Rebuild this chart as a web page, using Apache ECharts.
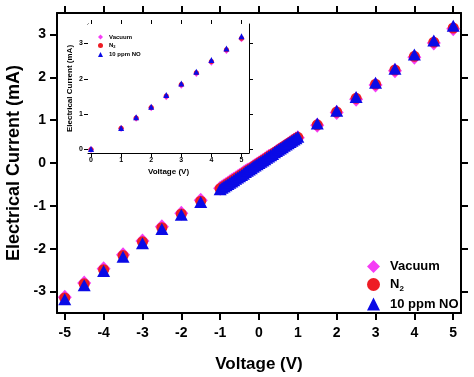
<!DOCTYPE html>
<html><head><meta charset="utf-8">
<script src="https://cdn.jsdelivr.net/npm/echarts@6/dist/echarts.min.js"></script>
<style>html,body{margin:0;padding:0;background:#fff}#c{width:474px;height:377px}</style>
</head><body><div id="c"></div>
<script>
// ---- main chart data ----
var voltage = [-5,-4.5,-4,-3.5,-3,-2.5,-2,-1.5,
  -1,-0.95,-0.9,-0.85,-0.8,-0.75,-0.7,-0.65,-0.6,-0.55,-0.5,-0.45,-0.4,-0.35,-0.3,-0.25,-0.2,-0.15,-0.1,-0.05,
  0,0.05,0.1,0.15,0.2,0.25,0.3,0.35,0.4,0.45,0.5,0.55,0.6,0.65,0.7,0.75,0.8,0.85,0.9,0.95,1,
  1.5,2,2.5,3,3.5,4,4.5,5];
var vacuumI = [-3.13,-2.80,-2.47,-2.14,-1.82,-1.49,-1.17,-0.87,
  -0.59,-0.56,-0.53,-0.50,-0.47,-0.44,-0.41,-0.38,-0.35,-0.32,-0.29,-0.26,-0.23,-0.20,-0.17,-0.15,-0.12,-0.09,-0.06,-0.03,
  0,0.03,0.06,0.09,0.12,0.15,0.17,0.20,0.23,0.26,0.29,0.32,0.35,0.38,0.41,0.44,0.47,0.50,0.53,0.56,0.59,
  0.88,1.18,1.49,1.82,2.15,2.47,2.80,3.13];
var n2I = [-3.15,-2.82,-2.49,-2.16,-1.84,-1.51,-1.19,-0.89,
  -0.60,-0.57,-0.54,-0.51,-0.48,-0.45,-0.42,-0.39,-0.36,-0.33,-0.30,-0.27,-0.24,-0.21,-0.18,-0.15,-0.12,-0.09,-0.06,-0.03,
  0,0.03,0.06,0.09,0.12,0.15,0.18,0.21,0.24,0.27,0.30,0.33,0.36,0.39,0.42,0.45,0.48,0.51,0.54,0.57,0.60,
  0.89,1.19,1.51,1.84,2.17,2.49,2.82,3.15];
var noI = [-3.18,-2.85,-2.52,-2.19,-1.87,-1.54,-1.21,-0.91,
  -0.61,-0.58,-0.55,-0.52,-0.49,-0.46,-0.43,-0.40,-0.37,-0.34,-0.31,-0.28,-0.25,-0.21,-0.18,-0.15,-0.12,-0.09,-0.06,-0.03,
  0,0.03,0.06,0.09,0.12,0.15,0.18,0.21,0.25,0.28,0.31,0.34,0.37,0.40,0.43,0.46,0.49,0.52,0.55,0.58,0.61,
  0.92,1.22,1.54,1.87,2.20,2.53,2.86,3.20];
var mainXTicks = [-5,-4,-3,-2,-1,0,1,2,3,4,5];
var mainYTicks = [-3,-2,-1,0,1,2,3];

// ---- inset data ----
var insetV = [0,1,1.5,2,2.5,3,3.5,4,4.5,5];
var insetVacuum = [0,0.59,0.88,1.18,1.49,1.82,2.15,2.47,2.80,3.13];
var insetN2 = [0,0.60,0.89,1.19,1.51,1.84,2.17,2.49,2.82,3.15];
var insetNO = [0.01,0.61,0.91,1.21,1.54,1.87,2.20,2.53,2.86,3.20];
var insetXTicks = [0,1,2,3,4,5];
var insetYTicks = [0,1,2,3];

var names = ['Vacuum','N2','10 ppm NO'];
var colors = ['#f53cf5','#ee1c24','#0a0ae6'];
var FONT = 'Liberation Sans, Arial, sans-serif';

function pairs(xs, ys){ return xs.map(function(x,i){ return [x, ys[i]]; }); }

function axis(o){
  var a = {
    type:'value', gridIndex:o.g, position:o.pos, min:o.min, max:o.max,
    axisLine:{show:true, onZero:false, lineStyle:{color:'#000', width:o.lw}},
    axisTick:{show:true, inside:false, length:o.tl, lineStyle:{color:'#000', width:o.lw}, customValues:o.ticks},
    axisLabel:{show:!!o.label, customValues:o.ticks, color:'#000', fontFamily:FONT, fontWeight:'bold', fontSize:o.fs, margin:o.margin},
    splitLine:{show:false}
  };
  if(o.name){
    a.name=o.name; a.nameLocation='middle'; a.nameGap=o.nameGap;
    a.nameTextStyle={color:'#000', fontFamily:FONT, fontWeight:'bold', fontSize:o.nfs};
  }
  return a;
}

var option = {
  animation:false,
  backgroundColor:'#fff',
  grid:[
    {left:57, top:13, width:404, height:300, outerBoundsMode:'none', containLabel:false},
    {left:88, top:24, width:161, height:129, show:true, backgroundColor:'#fff', borderWidth:0, z:5, outerBoundsMode:'none', containLabel:false}
  ],
  xAxis:[
    axis({g:0,pos:'bottom',min:-5.2,max:5.2,lw:2,tl:7,ticks:mainXTicks,label:true,fs:14,margin:13,name:'Voltage (V)',nameGap:43,nfs:17}),
    axis({g:0,pos:'top',min:-5.2,max:5.2,lw:2,tl:7,ticks:mainXTicks}),
    axis({g:1,pos:'bottom',min:-0.1,max:5.25,lw:1,tl:4,ticks:insetXTicks,label:true,fs:7,margin:4,name:'Voltage (V)',nameGap:15,nfs:8}),
    axis({g:1,pos:'top',min:-0.1,max:5.25,lw:1,tl:4,ticks:insetXTicks})
  ],
  yAxis:[
    axis({g:0,pos:'left',min:-3.5,max:3.5,lw:2,tl:7,ticks:mainYTicks,label:true,fs:14,margin:11,name:'Electrical Current (mA)',nameGap:33,nfs:18}),
    axis({g:0,pos:'right',min:-3.5,max:3.5,lw:2,tl:7,ticks:mainYTicks}),
    axis({g:1,pos:'left',min:-0.1,max:3.55,lw:1,tl:4,ticks:insetYTicks,label:true,fs:7,margin:5,name:'Electrical Current (mA)',nameGap:14,nfs:8}),
    axis({g:1,pos:'right',min:-0.1,max:3.55,lw:1,tl:4,ticks:insetYTicks})
  ],
  legend:[
    {data:names, orient:'vertical', left:362, top:255, itemWidth:13, itemHeight:13, itemGap:5,
     textStyle:{color:'#000', fontFamily:FONT, fontWeight:'bold', fontSize:13, padding:[0,0,0,5],
       rich:{b:{fontFamily:FONT,fontWeight:'bold',fontSize:13,color:'#000'},
             s:{fontFamily:FONT,fontWeight:'bold',fontSize:8,color:'#000',padding:[8,0,0,0]}}},
     formatter:function(n){ return n==='N2' ? '{b|N}{s|2}' : '{b|'+n+'}'; }},
    {data:names, orient:'vertical', left:93, top:29, itemWidth:5, itemHeight:5, itemGap:2.5, z:10,
     textStyle:{color:'#000', fontFamily:FONT, fontWeight:'bold', fontSize:6, padding:[0,0,0,1],
       rich:{b:{fontFamily:FONT,fontWeight:'bold',fontSize:6,color:'#000'},
             s:{fontFamily:FONT,fontWeight:'bold',fontSize:4,color:'#000',padding:[3,0,0,0]}}},
     formatter:function(n){ return n==='N2' ? '{b|N}{s|2}' : '{b|'+n+'}'; }}
  ],
  series:[
    {name:'Vacuum', type:'scatter', xAxisIndex:0, yAxisIndex:0, symbol:'diamond', symbolSize:[14,15], itemStyle:{color:colors[0], opacity:1}, data:pairs(voltage, vacuumI)},
    {name:'N2', type:'scatter', xAxisIndex:0, yAxisIndex:0, symbol:'circle', symbolSize:11, itemStyle:{color:colors[1], opacity:1}, data:pairs(voltage, n2I)},
    {name:'10 ppm NO', type:'scatter', xAxisIndex:0, yAxisIndex:0, symbol:'triangle', symbolSize:[13,12], itemStyle:{color:colors[2], opacity:1}, data:pairs(voltage, noI)},
    {name:'Vacuum', type:'scatter', xAxisIndex:2, yAxisIndex:2, z:6, symbol:'diamond', symbolSize:[6,7], itemStyle:{color:colors[0], opacity:1}, data:pairs(insetV, insetVacuum)},
    {name:'N2', type:'scatter', xAxisIndex:2, yAxisIndex:2, z:6, symbol:'circle', symbolSize:5, itemStyle:{color:colors[1], opacity:1}, data:pairs(insetV, insetN2)},
    {name:'10 ppm NO', type:'scatter', xAxisIndex:2, yAxisIndex:2, z:6, symbol:'triangle', symbolSize:[6,6], itemStyle:{color:colors[2], opacity:1}, data:pairs(insetV, insetNO)}
  ]
};
var chart = echarts.init(document.getElementById('c'), null, {renderer:'canvas'});
chart.setOption(option);
</script>
</body></html>
